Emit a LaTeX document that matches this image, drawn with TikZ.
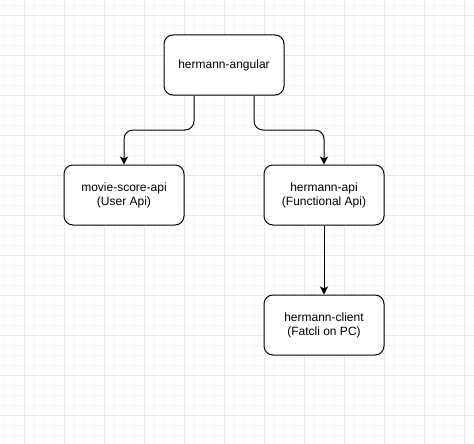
\documentclass[tikz,border=0pt]{standalone}
\usepackage{fontspec}
\setmainfont{Liberation Sans}
\definecolor{minorgrid}{HTML}{F6F6F6}
\definecolor{majorgrid}{HTML}{E8E8E8}
\tikzset{
  service/.style={draw, line width=1pt, rounded corners=9pt, minimum width=120pt,
    minimum height=60pt, align=center, font=\fontsize{12}{14}\selectfont, fill=white},
  link/.style={draw, line width=1pt, rounded corners=9pt, -{Stealth[length=8pt,width=8pt,inset=2pt]}}
}
\usetikzlibrary{arrows.meta}
\begin{document}
\begin{tikzpicture}[x=1pt, y=-1pt]
  \useasboundingbox (0,0) rectangle (474,444);
  % grid
  \foreach \x in {4,14,...,474} \draw[minorgrid, line width=0.7pt] (\x,0) -- (\x,444);
  \foreach \y in {5,15,...,444} \draw[minorgrid, line width=0.7pt] (0,\y) -- (474,\y);
  \foreach \x in {24,64,...,474} \draw[majorgrid, line width=0.7pt] (\x,0) -- (\x,444);
  \foreach \y in {15,55,...,444} \draw[majorgrid, line width=0.7pt] (0,\y) -- (474,\y);

  \node[service] (angular) at (224,65) {hermann-angular};
  \node[service] (movie) at (124,195) {movie-score-api\\(User Api)};
  \node[service] (api) at (324,195) {hermann-api\\(Functional Api)};
  \node[service] (client) at (324,325) {hermann-client\\(Fatcli on PC)};

  \draw[link] ([xshift=-30pt]angular.south) |- (movie.north |- 0,130) -- (movie.north);
  \draw[link] ([xshift=30pt]angular.south) |- (api.north |- 0,130) -- (api.north);
  \draw[link] (api) -- (client);
\end{tikzpicture}
\end{document}
